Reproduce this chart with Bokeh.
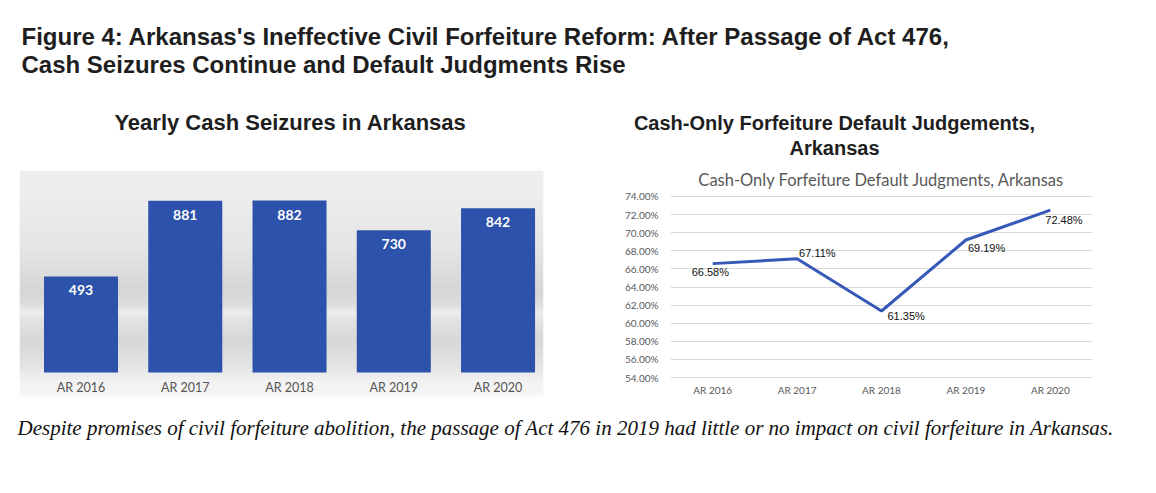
import numpy as np
from bokeh.plotting import figure
from bokeh.layouts import column, row
from bokeh.models import Range1d, FactorRange, SingleIntervalTicker, PrintfTickFormatter, Title
from bokeh.core.properties import value
from bokeh.embed import file_html
from bokeh.resources import INLINE

# ---------------- data ----------------
title_lines = ["Figure 4: Arkansas's Ineffective Civil Forfeiture Reform: After Passage of Act 476,",
               "Cash Seizures Continue and Default Judgments Rise"]
left_title = "Yearly Cash Seizures in Arkansas"
right_title_lines = ["Cash-Only Forfeiture Default Judgements,", "Arkansas"]
inner_title = "Cash-Only Forfeiture Default Judgments, Arkansas"
caption = ("Despite promises of civil forfeiture abolition, the passage of Act 476 in 2019 "
           "had little or no impact on civil forfeiture in Arkansas.")

years = ["AR 2016", "AR 2017", "AR 2018", "AR 2019", "AR 2020"]
cash_seizures = [493, 881, 882, 730, 842]
default_pct = [66.58, 67.11, 61.35, 69.19, 72.48]
pct_labels = [f"{v:.2f}%" for v in default_pct]

SANS = value("Liberation Sans")
CAL = value("Lato")


def blank(fig):
    fig.grid.visible = False
    fig.outline_line_color = None
    return fig


# ---------------- header ----------------
hdr = blank(figure(width=1156, height=160, x_range=Range1d(0, 1156), y_range=Range1d(160, 0),
                   x_axis_location=None, y_axis_location=None, min_border=0, frame_align=False,
                   output_backend="svg", toolbar_location=None))
hdr.text(x=[21, 21], y=[36, 64], text=title_lines, text_font=SANS, text_font_size="24px",
         text_font_style="bold", text_color="#1e1e1e", text_align="left", text_baseline="alphabetic")
hdr.text(x=[290], y=[122], text=[left_title], text_font=SANS, text_font_size="22px",
         text_font_style="bold", text_color="#1e1e1e", text_align="center", text_baseline="alphabetic")
hdr.text(x=[834, 834], y=[122, 147], text=right_title_lines, text_font=SANS, text_font_size="20px",
         text_font_style="bold", text_color="#1e1e1e", text_align="center", text_baseline="alphabetic")

# ---------------- left: bar chart ----------------
idx = list(range(len(years)))
lf = blank(figure(width=560, height=245, x_range=Range1d(-0.59, 4.436), y_range=Range1d(-123, 1036),
                  x_axis_location=None, y_axis_location=None, frame_align=False,
                  min_border_left=19, min_border_right=17, min_border_top=10, min_border_bottom=9,
                  output_backend="svg", toolbar_location=None))

# background gradient (decoration)
H = 226
stops_y = [0, 30, 80, 120, 135, 142, 150, 170, 195, 210, 226]
stops_g = [239, 237, 229, 214, 223, 237, 227, 216, 228, 242, 247]
rows_top = np.interp(np.arange(H) + 0.5, stops_y, stops_g).astype(np.uint8)
img = np.zeros((H, 1), dtype=np.uint32)
view = img.view(dtype=np.uint8).reshape((H, 1, 4))
g = rows_top[::-1]
view[:, 0, 0] = g
view[:, 0, 1] = g
view[:, 0, 2] = g
view[:, 0, 3] = 255
xr, yr = lf.x_range, lf.y_range
lf.image_rgba(image=[img], x=xr.start, y=yr.start, dw=xr.end - xr.start, dh=yr.end - yr.start)

lf.vbar(x=idx, top=cash_seizures, bottom=0, width=0.71, fill_color="#2d52ab", line_color=None)
lf.text(x=idx, y=cash_seizures, text=[str(v) for v in cash_seizures], y_offset=14,
        text_font=CAL, text_font_size="14px", text_font_style="bold", text_color="white",
        text_align="center", text_baseline="middle")
lf.text(x=idx, y=[0] * len(years), text=years, y_offset=15,
        text_font=CAL, text_font_size="12.5px", text_color="#555555",
        text_align="center", text_baseline="middle")

# ---------------- right: line chart ----------------
rf = figure(width=596, height=245, x_range=FactorRange(factors=years, range_padding=0),
            y_range=Range1d(53.9, 74.1), frame_align=False,
            min_border_left=110, min_border_right=64, min_border_top=35, min_border_bottom=27,
            output_backend="svg", toolbar_location=None)
rf.outline_line_color = None
rf.add_layout(Title(text=inner_title, align="center", text_font="Lato", text_font_size="16.5px",
                    text_font_style="normal", text_color="#595959", standoff=12, offset=-4), "above")

tick = SingleIntervalTicker(interval=2)
rf.yaxis.ticker = tick
rf.ygrid.ticker = tick
rf.yaxis.formatter = PrintfTickFormatter(format="%.2f%%")
for ax in (rf.xaxis, rf.yaxis):
    ax.axis_line_color = None
    ax.major_tick_line_color = None
    ax.minor_tick_line_color = None
    ax.major_tick_out = 0
    ax.major_tick_in = 0
    ax.major_label_text_font = "Lato"
    ax.major_label_text_font_size = "10px"
    ax.major_label_text_color = "#595959"
rf.yaxis.major_label_standoff = 8
rf.xaxis.major_label_standoff = 5
rf.xgrid.grid_line_color = None
rf.ygrid.grid_line_color = "#d9d9d9"
rf.ygrid.grid_line_width = 1

rf.line(x=years, y=default_pct, line_color="#3659b8", line_width=3)
rf.text(x=years, y=default_pct, text=pct_labels,
        x_offset=[-21, 2, 6, 2, -5], y_offset=[8, -6, 5, 8, 10],
        text_font=SANS, text_font_size="11px", text_color="#111111",
        text_align="left", text_baseline="middle")

# ---------------- footer ----------------
ftr = blank(figure(width=1156, height=88, x_range=Range1d(0, 1156), y_range=Range1d(88, 0),
                   x_axis_location=None, y_axis_location=None, min_border=0, frame_align=False,
                   output_backend="svg", toolbar_location=None))
ftr.text(x=[17], y=[22], text=[caption], text_font=value("Liberation Serif"), text_font_size="21px",
         text_font_style="italic", text_color="#111111", text_align="left", text_baseline="alphabetic")

p = column(hdr, row(lf, rf), ftr)
open("out.html", "w").write(file_html(p, INLINE))
